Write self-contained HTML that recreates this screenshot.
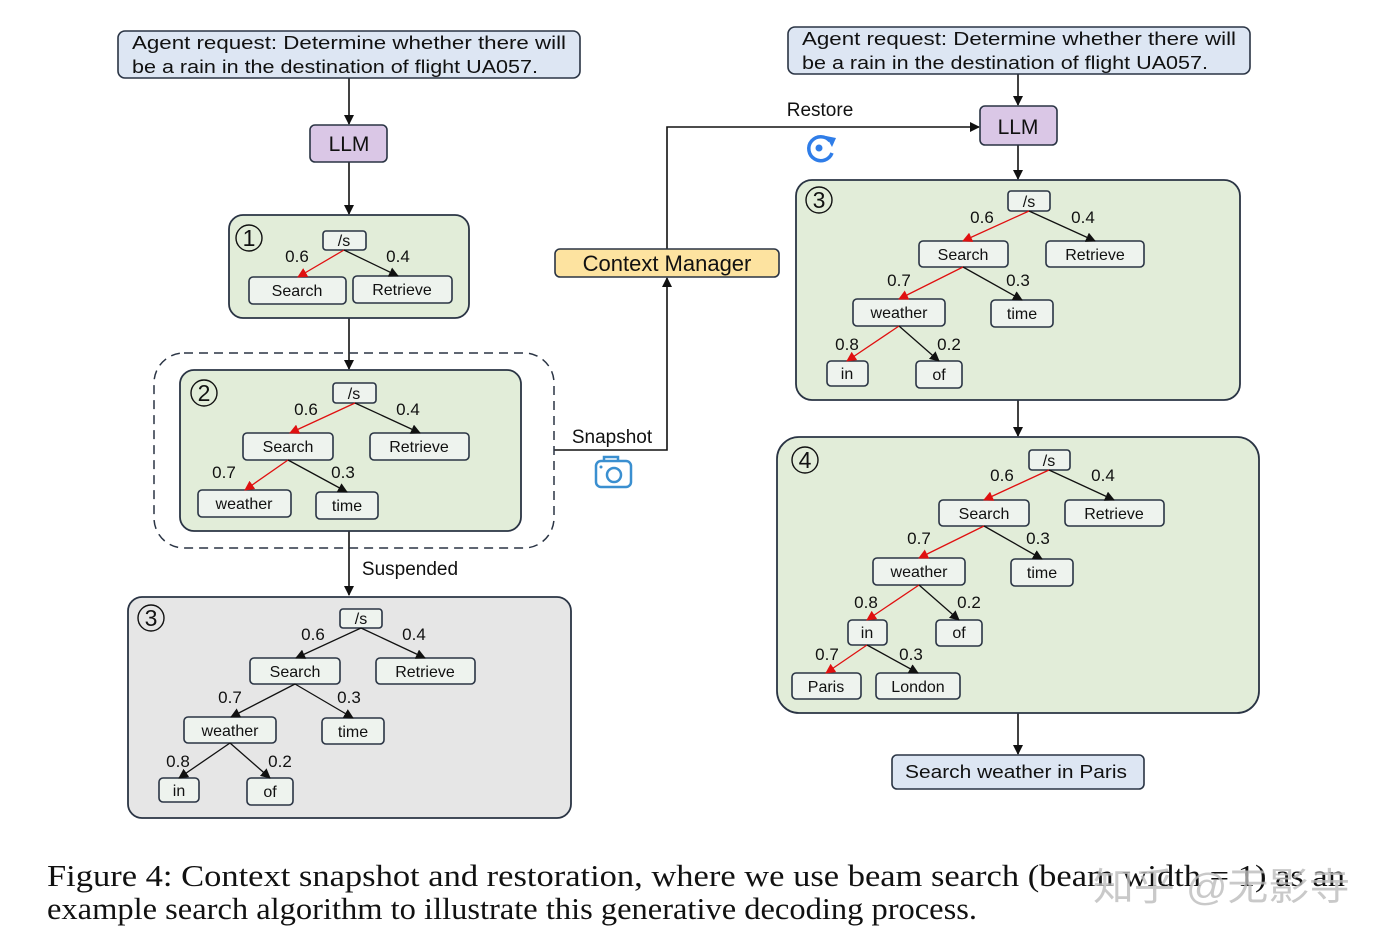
<!DOCTYPE html>
<html><head><meta charset="utf-8"><style>
body{margin:0;background:#fff}
svg{display:block}
text{font-family:"Liberation Sans","DejaVu Sans",sans-serif;fill:#111}
.n{fill:#eef3ee;stroke:#2a3444;stroke-width:1.6}
.p{fill:#e2edd9;stroke:#2a3444;stroke-width:1.8}
.t{font-size:16px;text-anchor:middle}
.l{font-size:17px;text-anchor:middle}
.cn{font-size:23px;text-anchor:middle}
.rq{font-size:18px}
</style></head><body>
<svg id="s" width="1384" height="944" viewBox="0 0 1384 944" xmlns="http://www.w3.org/2000/svg">
<defs>
<marker id="ab" markerWidth="10" markerHeight="10" refX="9" refY="5" orient="auto" markerUnits="userSpaceOnUse"><path d="M0,0L10,5L0,10z" fill="#111"/></marker>
<marker id="ar" markerWidth="10" markerHeight="10" refX="9" refY="5" orient="auto" markerUnits="userSpaceOnUse"><path d="M0,0L10,5L0,10z" fill="#e01010"/></marker>
</defs>
<g stroke="#111" stroke-width="1.6" fill="none" marker-end="url(#ab)">
<path d="M349,78V124"/><path d="M349,162V214"/><path d="M349,318V369"/><path d="M349,531V595"/>
<path d="M554,450H667V278"/><path d="M667,249V127H979"/>
<path d="M1018,74V105"/><path d="M1018,145V179"/><path d="M1018,400V436"/><path d="M1018,713V754"/>
</g>
<rect x="118" y="31" width="462" height="47" rx="7" fill="#dde6f3" stroke="#2a3444" stroke-width="1.6"/>
<text x="132" y="49" class="rq" textLength="434" lengthAdjust="spacingAndGlyphs">Agent request: Determine whether there will</text>
<text x="132" y="73" class="rq" textLength="406" lengthAdjust="spacingAndGlyphs">be a rain in the destination of flight UA057.</text>
<rect x="310" y="125" width="77" height="37" rx="5" fill="#dac7e6" stroke="#2a3444" stroke-width="1.6"/>
<text x="349" y="151" class="t" style="font-size:21px">LLM</text>
<rect x="788" y="27" width="462" height="47" rx="7" fill="#dde6f3" stroke="#2a3444" stroke-width="1.6"/>
<text x="802" y="45" class="rq" textLength="434" lengthAdjust="spacingAndGlyphs">Agent request: Determine whether there will</text>
<text x="802" y="69" class="rq" textLength="406" lengthAdjust="spacingAndGlyphs">be a rain in the destination of flight UA057.</text>
<rect x="980" y="106" width="77" height="39" rx="5" fill="#dac7e6" stroke="#2a3444" stroke-width="1.6"/>
<text x="1018" y="134" class="t" style="font-size:21px">LLM</text>
<rect x="555" y="249" width="224" height="28" rx="5" fill="#fde3a0" stroke="#2a3444" stroke-width="1.6"/>
<text x="667" y="271" class="t" style="font-size:22px">Context Manager</text>
<text x="820" y="116" class="t" style="font-size:19px">Restore</text>
<text x="612" y="443" class="t" style="font-size:19px">Snapshot</text>
<text x="410" y="575" class="t" style="font-size:19px">Suspended</text>
<g fill="none" stroke="#2f7de8" stroke-width="3.5"><path d="M830,141A12,12 0 1 0 832,153"/></g>
<path d="M826,136L836,138L832,147z" fill="#2f7de8"/><circle cx="819" cy="148" r="3.5" fill="#2f7de8"/>
<rect x="596" y="461" width="35" height="26" rx="5" fill="none" stroke="#3a8fd0" stroke-width="2.5"/>
<path d="M604,461v-4h14v4" fill="none" stroke="#3a8fd0" stroke-width="2.5"/>
<circle cx="614" cy="475" r="7" fill="none" stroke="#3a8fd0" stroke-width="2.5"/><circle cx="601" cy="467" r="1.5" fill="#3a8fd0"/>
<rect x="154" y="353" width="400" height="195" rx="30" fill="none" stroke="#2a3444" stroke-width="1.5" stroke-dasharray="9,6"/>
<rect class="p" x="229" y="215" width="240" height="103" rx="14"/>
<circle cx="249" cy="238" r="13" fill="none" stroke="#111" stroke-width="1.4"/><text x="249" y="246" class="cn">1</text>
<rect class="n" x="323" y="231" width="43" height="19" rx="3"/><text x="344" y="246" class="t">/s</text>
<rect class="n" x="249" y="277" width="97" height="27" rx="4"/><text x="297" y="296" class="t">Search</text>
<rect class="n" x="353" y="276" width="99" height="27" rx="4"/><text x="402" y="295" class="t">Retrieve</text>
<text x="297" y="262" class="l">0.6</text><text x="398" y="262" class="l">0.4</text>
<rect class="p" x="180" y="370" width="341" height="161" rx="14"/>
<circle cx="204" cy="393" r="13" fill="none" stroke="#111" stroke-width="1.4"/><text x="204" y="401" class="cn">2</text>
<rect class="n" x="333" y="383" width="43" height="20" rx="3"/><text x="354" y="399" class="t">/s</text>
<rect class="n" x="243" y="433" width="90" height="27" rx="4"/><text x="288" y="452" class="t">Search</text>
<rect class="n" x="370" y="433" width="99" height="27" rx="4"/><text x="419" y="452" class="t">Retrieve</text>
<rect class="n" x="198" y="490" width="93" height="27" rx="4"/><text x="244" y="509" class="t">weather</text>
<rect class="n" x="316" y="492" width="62" height="27" rx="4"/><text x="347" y="511" class="t">time</text>
<text x="306" y="415" class="l">0.6</text><text x="408" y="415" class="l">0.4</text><text x="224" y="478" class="l">0.7</text><text x="343" y="478" class="l">0.3</text>
<rect x="128" y="597" width="443" height="221" rx="14" fill="#e6e6e6" stroke="#2a3444" stroke-width="1.8"/>
<circle cx="151" cy="618" r="13" fill="none" stroke="#111" stroke-width="1.4"/><text x="151" y="626" class="cn">3</text>
<rect class="n" x="340" y="609" width="42" height="19" rx="3"/><text x="361" y="624" class="t">/s</text>
<rect class="n" x="250" y="658" width="90" height="26" rx="4"/><text x="295" y="677" class="t">Search</text>
<rect class="n" x="376" y="658" width="99" height="26" rx="4"/><text x="425" y="677" class="t">Retrieve</text>
<rect class="n" x="184" y="717" width="92" height="26" rx="4"/><text x="230" y="736" class="t">weather</text>
<rect class="n" x="322" y="718" width="62" height="26" rx="4"/><text x="353" y="737" class="t">time</text>
<rect class="n" x="159" y="778" width="40" height="24" rx="4"/><text x="179" y="796" class="t">in</text>
<rect class="n" x="247" y="778" width="46" height="27" rx="4"/><text x="270" y="797" class="t">of</text>
<text x="313" y="640" class="l">0.6</text><text x="414" y="640" class="l">0.4</text><text x="230" y="703" class="l">0.7</text><text x="349" y="703" class="l">0.3</text><text x="178" y="767" class="l">0.8</text><text x="280" y="767" class="l">0.2</text>
<rect class="p" x="796" y="180" width="444" height="220" rx="16"/>
<circle cx="819" cy="200" r="13" fill="none" stroke="#111" stroke-width="1.4"/><text x="819" y="208" class="cn">3</text>
<rect class="n" x="1008" y="191" width="42" height="20" rx="3"/><text x="1029" y="207" class="t">/s</text>
<rect class="n" x="919" y="241" width="89" height="26" rx="4"/><text x="963" y="260" class="t">Search</text>
<rect class="n" x="1046" y="241" width="98" height="26" rx="4"/><text x="1095" y="260" class="t">Retrieve</text>
<rect class="n" x="853" y="299" width="92" height="27" rx="4"/><text x="899" y="318" class="t">weather</text>
<rect class="n" x="991" y="300" width="62" height="27" rx="4"/><text x="1022" y="319" class="t">time</text>
<rect class="n" x="827" y="361" width="41" height="25" rx="4"/><text x="847" y="379" class="t">in</text>
<rect class="n" x="916" y="361" width="46" height="27" rx="4"/><text x="939" y="380" class="t">of</text>
<text x="982" y="223" class="l">0.6</text><text x="1083" y="223" class="l">0.4</text><text x="899" y="286" class="l">0.7</text><text x="1018" y="286" class="l">0.3</text><text x="847" y="350" class="l">0.8</text><text x="949" y="350" class="l">0.2</text>
<rect class="p" x="777" y="437" width="482" height="276" rx="22"/>
<circle cx="805" cy="460" r="13" fill="none" stroke="#111" stroke-width="1.4"/><text x="805" y="468" class="cn">4</text>
<rect class="n" x="1029" y="450" width="41" height="20" rx="3"/><text x="1049" y="466" class="t">/s</text>
<rect class="n" x="939" y="500" width="90" height="26" rx="4"/><text x="984" y="519" class="t">Search</text>
<rect class="n" x="1065" y="500" width="99" height="26" rx="4"/><text x="1114" y="519" class="t">Retrieve</text>
<rect class="n" x="873" y="558" width="92" height="27" rx="4"/><text x="919" y="577" class="t">weather</text>
<rect class="n" x="1011" y="559" width="62" height="27" rx="4"/><text x="1042" y="578" class="t">time</text>
<rect class="n" x="848" y="620" width="39" height="25" rx="4"/><text x="867" y="638" class="t">in</text>
<rect class="n" x="936" y="620" width="46" height="26" rx="4"/><text x="959" y="638" class="t">of</text>
<rect class="n" x="792" y="673" width="69" height="26" rx="4"/><text x="826" y="692" class="t">Paris</text>
<rect class="n" x="876" y="673" width="84" height="26" rx="4"/><text x="918" y="692" class="t">London</text>
<text x="1002" y="481" class="l">0.6</text><text x="1103" y="481" class="l">0.4</text><text x="919" y="544" class="l">0.7</text><text x="1038" y="544" class="l">0.3</text><text x="866" y="608" class="l">0.8</text><text x="969" y="608" class="l">0.2</text><text x="827" y="660" class="l">0.7</text><text x="911" y="660" class="l">0.3</text>
<rect x="892" y="755" width="252" height="34" rx="5" fill="#dde6f3" stroke="#2a3444" stroke-width="1.6"/>
<text x="905" y="778" class="rq" textLength="222" lengthAdjust="spacingAndGlyphs">Search weather in Paris</text>
<g id="edges"></g>
<text x="47" y="886" style="font-family:'Liberation Serif',serif;font-size:31px" textLength="1298" lengthAdjust="spacingAndGlyphs">Figure 4: Context snapshot and restoration, where we use beam search (beam width = 1) as an</text>
<text x="47" y="919" style="font-family:'Liberation Serif',serif;font-size:31px" textLength="930" lengthAdjust="spacingAndGlyphs">example search algorithm to illustrate this generative decoding process.</text>
<text x="1093" y="900" style="font-family:'Liberation Sans','Noto Sans CJK SC',sans-serif;font-size:38px;fill:#bbb;fill-opacity:0.8" textLength="257" lengthAdjust="spacingAndGlyphs">知乎 @无影寺</text>
</svg>
<script>
var E=[[344,250,298,277,1],[344,250,398,276,0],
[355,403,290,433,1],[355,403,420,433,0],[288,460,245,490,1],[288,460,347,492,0],
[361,628,296,658,0],[361,628,425,658,0],[295,684,231,717,0],[295,684,353,718,0],[230,743,179,778,0],[230,743,270,778,0],
[1029,211,963,241,1],[1029,211,1095,241,0],[963,267,899,299,1],[963,267,1022,300,0],[899,326,847,361,1],[899,326,939,361,0],
[1049,470,984,500,1],[1049,470,1114,500,0],[984,526,919,558,1],[984,526,1042,559,0],[919,585,867,620,1],[919,585,959,620,0],[867,645,826,673,1],[867,645,918,673,0]];
var g=document.getElementById('edges'),ns='http://www.w3.org/2000/svg';
E.forEach(function(e){var l=document.createElementNS(ns,'line');l.setAttribute('x1',e[0]);l.setAttribute('y1',e[1]);l.setAttribute('x2',e[2]);l.setAttribute('y2',e[3]);l.setAttribute('stroke',e[4]?'#e01010':'#111');l.setAttribute('stroke-width','1.3');l.setAttribute('marker-end',e[4]?'url(#ar)':'url(#ab)');g.appendChild(l);});
</script>
</body></html>
